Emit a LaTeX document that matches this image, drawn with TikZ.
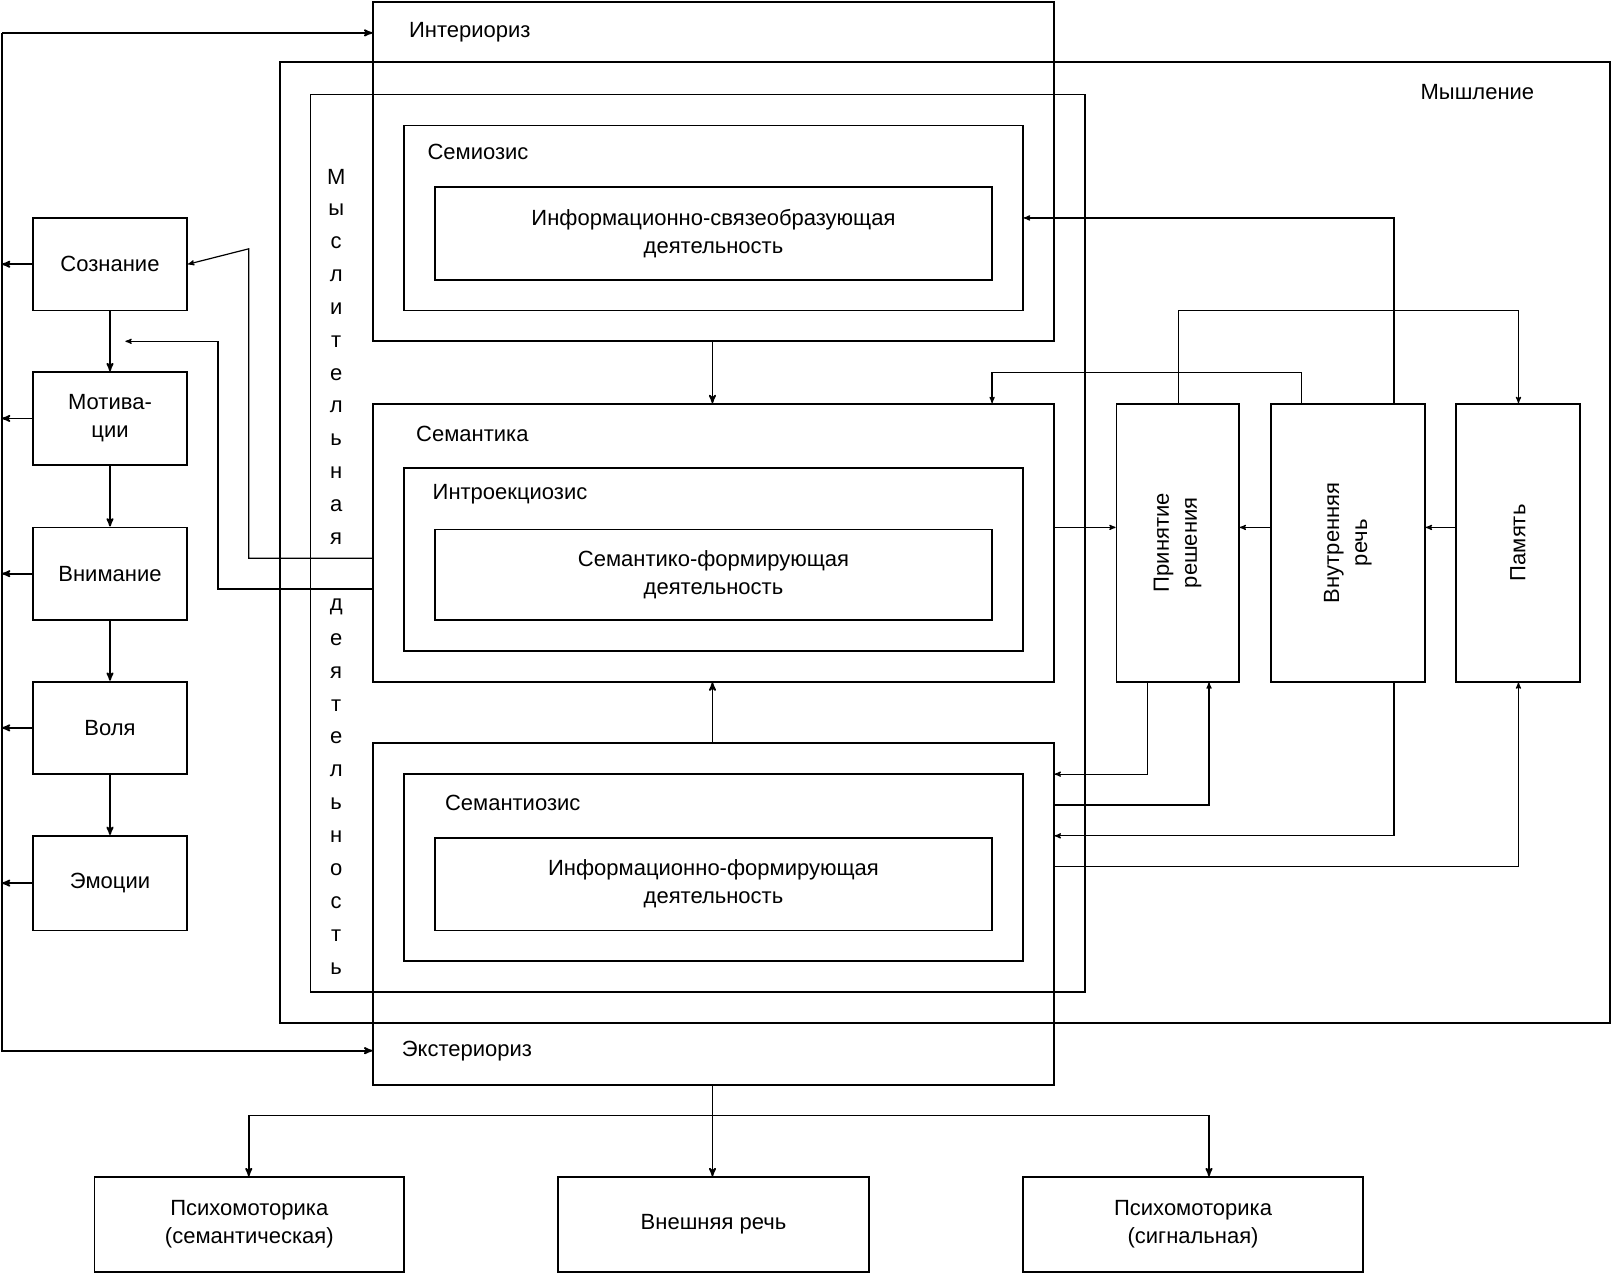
\documentclass[tikz,border=0pt]{standalone}
\usepackage{fontspec}
\setmainfont{Liberation Sans}
\usetikzlibrary{arrows, fit, positioning}
\begin{document}
\begin{tikzpicture}[
		x=1.028pt, y=-1.028pt,
		>=stealth',
		line width=1.8pt,
		font=\fontsize{22}{28}\selectfont,
		box/.style={draw, rectangle, inner sep=0pt},
		lbl/.style={anchor=west, inner sep=0pt},
		txt/.style={align=center, inner sep=0pt}]

	\useasboundingbox (0,0) rectangle (1568,1238.5);

	% outer frames
	\node[box, fit={(363,2) (1025,332)}] (interior) {};
	\node[box, fit={(272,60) (1566,995)}] (myshl) {};
	\node[box, fit={(302,92) (1055,965)}] (deyat) {};
	\node[box, fit={(363,723) (1025,1055)}] (exterior) {};
	\node[lbl] at (397,31) {Интериориз};
	\node[lbl] at (1381,90) {Мышление};
	\node[lbl] at (390,1022) {Экстериориз};
	\foreach \c [count=\i] in {М,ы,с,л,и,т,е,л,ь,н,а,я}
		\node[txt] at (327,140+32*\i) {\c};
	\foreach \c [count=\i] in {д,е,я,т,е,л,ь,н,о,с,т,ь}
		\node[txt] at (327,558+32*\i) {\c};

	% semiosis
	\node[box, fit={(393,122) (995,302)}] (semiosis) {};
	\node[box, fit={(423,182) (965,272)}] (isd) {};
	\node[lbl] at (415,148) {Семиозис};
	\node[txt] at (isd) {Информационно-связеобразующая\\деятельность};

	% semantika
	\node[box, fit={(363,393) (1025,663)}] (semantika) {};
	\node[box, fit={(393,455) (995,633)}] (introek) {};
	\node[box, fit={(423,515) (965,603)}] (sfd) {};
	\node[lbl] at (404,422) {Семантика};
	\node[lbl] at (420,481) {Интроекциозис};
	\node[txt] at (sfd) {Семантико-формирующая\\деятельность};

	% semantiosis
	\node[box, fit={(393,753) (995,935)}] (semantiosis) {};
	\node[box, fit={(423,815) (965,905)}] (ifd) {};
	\node[lbl] at (432,781) {Семантиозис};
	\node[txt] at (ifd) {Информационно-формирующая\\деятельность};

	% left column
	\node[box, fit={(32,212) (182,302)}] (soznanie) {};
	\node[box, fit={(32,362) (182,452)}] (motiv) {};
	\node[box, fit={(32,513) (182,603)}] (vnimanie) {};
	\node[box, fit={(32,663) (182,753)}] (volya) {};
	\node[box, fit={(32,813) (182,905)}] (emocii) {};
	\node[txt] at (soznanie) {Сознание};
	\node[txt] at (motiv) {Мотива-\\ции};
	\node[txt] at (vnimanie) {Внимание};
	\node[txt] at (volya) {Воля};
	\node[txt] at (emocii) {Эмоции};

	% right column
	\node[box, fit={(1086,393) (1205,663)}] (reshenie) {};
	\node[box, fit={(1236,393) (1386,663)}] (vrech) {};
	\node[box, fit={(1416,393) (1537,663)}] (pamyat) {};
	\node[txt, rotate=90] at (reshenie) {Принятие\\решения};
	\node[txt, rotate=90] at (vrech) {Внутренняя\\речь};
	\node[txt, rotate=90] at (pamyat) {Память};

	% bottom row
	\node[box, fit={(92,1145) (393,1237)}] (psem) {};
	\node[box, fit={(543,1145) (845,1237)}] (vnrech) {};
	\node[box, fit={(995,1145) (1326,1237)}] (psig) {};
	\node[txt] at (psem) {Психомоторика\\(семантическая)};
	\node[txt] at (vnrech) {Внешняя речь};
	\node[txt] at (psig) {Психомоторика\\(сигнальная)};

	\coordinate (ltop) at (2,32);
	\coordinate (lbot) at (2,1022);

	% left loop
	\draw[->] (ltop) -- (interior.west |- ltop);
	\draw[->] (ltop) -- (lbot) -- (exterior.west |- lbot);
	\foreach \n in {soznanie, motiv, vnimanie, volya, emocii}
		\draw[->] (\n.west) -- (ltop |- \n.west);
	\draw[->] (soznanie) -- (motiv);
	\draw[->] (motiv) -- (vnimanie);
	\draw[->] (vnimanie) -- (volya);
	\draw[->] (volya) -- (emocii);
	\draw[->, line width=1.2pt] (semantika.west |- 0,543) -- (242,543) -- (242,242) -- (soznanie.east);
	\draw[->, line width=1.2pt] (semantika.west |- 0,573) -- (212,573) -- (212,332) -- (122,332);

	% centre
	\draw[->] (interior.south -| 693,0) -- (semantika.north -| 693,0);
	\draw[->] (exterior.north -| 693,0) -- (semantika.south -| 693,0);

	% right links
	\draw[->, line width=1.2pt] (vrech.north -| 1356,0) -- (1356,212) -- (semiosis.east |- 0,212);
	\draw[->, line width=1.2pt] (reshenie.north -| 1146,0) -- (1146,302) -- (1477,302) -- (pamyat.north -| 1477,0);
	\draw[->, line width=1.2pt] (vrech.north -| 1266,0) -- (1266,362) -- (965,362) -- (semantika.north -| 965,0);
	\draw[->, line width=1.2pt] (semantika.east |- 0,513) -- (reshenie.west |- 0,513);
	\draw[->, line width=1.2pt] (vrech.west |- 0,513) -- (reshenie.east |- 0,513);
	\draw[->, line width=1.2pt] (pamyat.west |- 0,513) -- (vrech.east |- 0,513);
	\draw[->, line width=1.2pt] (reshenie.south -| 1116,0) -- (1116,753) -- (exterior.east |- 0,753);
	\draw[->, line width=1.2pt] (exterior.east |- 0,783) -- (1176,783) -- (reshenie.south -| 1176,0);
	\draw[->, line width=1.2pt] (vrech.south -| 1356,0) -- (1356,813) -- (exterior.east |- 0,813);
	\draw[->, line width=1.2pt] (exterior.east |- 0,843) -- (1477,843) -- (pamyat.south -| 1477,0);

	% outputs
	\draw[->] (exterior.south -| 693,0) -- (vnrech.north -| 693,0);
	\draw[->] (242,1085) -- (psem.north -| 242,0);
	\draw (242,1085) -- (1176,1085);
	\draw[->] (1176,1085) -- (psig.north -| 1176,0);
\end{tikzpicture}
\end{document}
